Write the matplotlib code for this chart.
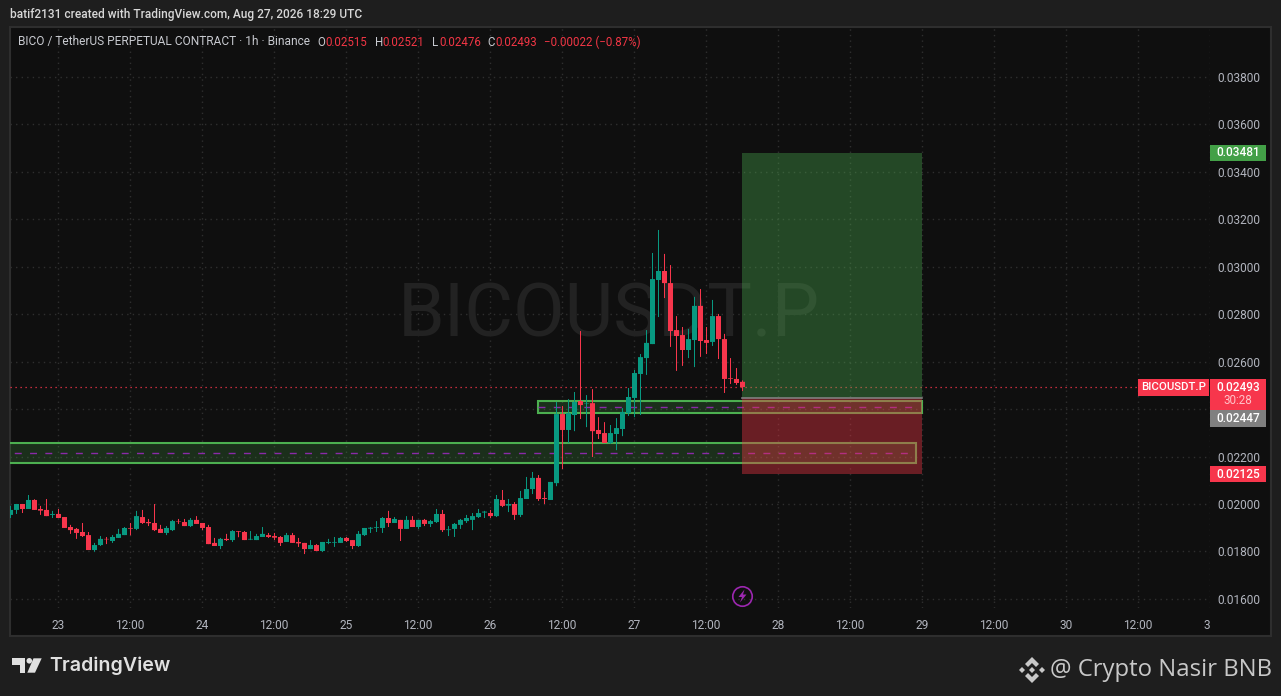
#!/usr/bin/env python
# coding=utf-8

import numpy as np
import matplotlib
matplotlib.use("Agg")
import matplotlib.pyplot as plt
from matplotlib.patches import Rectangle, Polygon, Circle

# hourly candles, prices in 1e-5 USDT
opens = [1954, 1975, 2000, 1979, 2017, 1979, 1975, 1954, 1958, 1945,
         1903, 1895, 1882, 1869, 1806, 1827, 1853, 1844, 1857, 1869,
         1899, 1895, 1945, 1924, 1920, 1895, 1878, 1890, 1928, 1924,
         1907, 1933, 1920, 1903, 1836, 1823, 1853, 1848, 1886, 1882,
         1850, 1848, 1861, 1869, 1865, 1861, 1840, 1869, 1840, 1836,
         1810, 1827, 1802, 1836, 1837, 1836, 1857, 1848, 1823, 1869,
         1896, 1900, 1899, 1941, 1920, 1933, 1895, 1933, 1903, 1933,
         1916, 1924, 1958, 1890, 1895, 1912, 1928, 1933, 1945, 1964,
         1962, 1949, 2017, 1993, 2000, 1954, 2021, 2063, 2110, 2025,
         2017, 2088, 2379, 2312, 2375, 2434, 2423, 2425, 2312, 2299,
         2257, 2295, 2316, 2383, 2447, 2548, 2615, 2674, 2944, 2982,
         2931, 2733, 2712, 2649, 2691, 2835, 2691, 2683, 2792, 2695,
         2531, 2527, 2515]
highs = [1992, 2000, 2000, 2038, 2020, 1992, 2021, 1971, 1979, 1945,
         1912, 1899, 1920, 1882, 1836, 1865, 1861, 1869, 1895, 1903,
         1920, 1971, 1975, 1937, 2000, 1912, 1907, 1933, 1937, 1937,
         1941, 1949, 1920, 1912, 1857, 1857, 1874, 1890, 1886, 1886,
         1886, 1874, 1903, 1878, 1878, 1865, 1878, 1878, 1857, 1836,
         1848, 1831, 1840, 1853, 1861, 1861, 1861, 1848, 1886, 1899,
         1903, 1928, 1945, 1971, 1945, 1933, 1949, 1949, 1933, 1937,
         1933, 1979, 1975, 1907, 1920, 1937, 1954, 1962, 1979, 1971,
         1975, 2038, 2059, 2021, 2008, 2055, 2114, 2135, 2122, 2051,
         2093, 2430, 2413, 2442, 2472, 2729, 2459, 2484, 2366, 2345,
         2333, 2362, 2404, 2489, 2565, 2632, 2733, 3058, 3155, 3054,
         3007, 2792, 2746, 2738, 2873, 2906, 2746, 2860, 2801, 2717,
         2615, 2573, 2521]
lows = [1941, 1958, 1962, 1979, 1975, 1954, 1949, 1941, 1941, 1899,
        1874, 1853, 1861, 1806, 1799, 1823, 1831, 1836, 1857, 1869,
        1868, 1890, 1916, 1907, 1886, 1878, 1869, 1886, 1916, 1907,
        1903, 1916, 1890, 1831, 1823, 1810, 1844, 1840, 1860, 1848,
        1848, 1848, 1861, 1857, 1848, 1823, 1840, 1836, 1819, 1789,
        1810, 1802, 1798, 1831, 1819, 1836, 1840, 1810, 1819, 1865,
        1878, 1882, 1878, 1903, 1920, 1844, 1895, 1903, 1895, 1907,
        1903, 1920, 1882, 1865, 1861, 1895, 1920, 1890, 1941, 1941,
        1941, 1945, 1987, 1966, 1933, 1945, 2021, 2042, 2013, 2000,
        2017, 2075, 2147, 2257, 2307, 2358, 2324, 2198, 2274, 2257,
        2253, 2227, 2286, 2371, 2366, 2375, 2544, 2674, 2788, 2868,
        2662, 2561, 2582, 2615, 2577, 2620, 2632, 2666, 2611, 2468,
        2506, 2502, 2476]
closes = [1975, 2000, 1979, 2017, 1975, 1972, 1949, 1958, 1941, 1899,
          1890, 1878, 1865, 1806, 1827, 1853, 1851, 1861, 1874, 1899,
          1896, 1949, 1920, 1919, 1890, 1878, 1899, 1928, 1926, 1907,
          1933, 1916, 1899, 1831, 1823, 1853, 1848, 1886, 1883, 1848,
          1853, 1865, 1874, 1861, 1858, 1836, 1869, 1836, 1834, 1810,
          1827, 1802, 1840, 1840, 1840, 1857, 1844, 1823, 1874, 1899,
          1900, 1903, 1941, 1920, 1937, 1895, 1933, 1903, 1933, 1916,
          1928, 1958, 1890, 1893, 1916, 1933, 1941, 1949, 1962, 1968,
          1949, 2021, 1992, 2000, 1954, 2025, 2063, 2110, 2021, 2021,
          2093, 2379, 2312, 2383, 2430, 2417, 2425, 2307, 2295, 2257,
          2299, 2320, 2388, 2451, 2552, 2619, 2679, 2948, 2982, 2931,
          2729, 2708, 2649, 2695, 2835, 2687, 2679, 2792, 2695, 2527,
          2528, 2510, 2493]

x_ticks = [8, 20, 32, 44, 56, 68, 80, 92, 104, 116, 128, 140, 152, 164, 176, 188, 200]
x_labels = ["23", "12:00", "24", "12:00", "25", "12:00", "26", "12:00", "27",
            "12:00", "28", "12:00", "29", "12:00", "30", "12:00", "3"]
y_ticks = [0.016, 0.018, 0.020, 0.022, 0.024, 0.026, 0.028, 0.030, 0.032,
           0.034, 0.036, 0.038]
# 0.024 sits behind the price tags, so it shows no label
y_labels = ["0.01600", "0.01800", "0.02000", "0.02200", "", "0.02600", "0.02800", "0.03000",
            "0.03200", "0.03400", "0.03600", "0.03800"]

entry, target, stop = 0.02447, 0.03481, 0.02125
last_price = 0.02493
position_x = (122, 152)
zones = [(88, 152, 0.02384, 0.02434), (-2, 151, 0.02173, 0.02257)]

UP, DOWN = "#089981", "#f7364c"
OUTER, PANE = "#1e1e1e", "#0f0f0f"
GRID = "#2f2f2f"
TXT = "#b2b5be"
FONT = "Roboto"

W, H = 1281, 696
# pane limits in pixels
L, R, T, B = 10, 1210, 28, 608
PX_PER_PRICE = 23727.0


def y_px(p):
    return 504 - (p - 0.02) * PX_PER_PRICE


fig = plt.figure(figsize=(W / 100, H / 100), dpi=100, facecolor=OUTER)
plt.rcParams["font.family"] = [FONT, "DejaVu Sans"]

# frame around pane and axis strip
back = fig.add_axes([0, 0, 1, 1], zorder=0)
back.set_xlim(0, W)
back.set_ylim(H, 0)
back.axis("off")
back.add_patch(Rectangle((9.5, 27), 1261, 609, fc=PANE, ec="#2e2e2e", lw=1.5))

ax = fig.add_axes([L / W, 1 - B / H, (R - L) / W, (B - T) / H], zorder=1)
ax.patch.set_alpha(0)
ax.set_xlim(0, 200)
ax.set_ylim(0.02 - (B - 504) / PX_PER_PRICE, 0.02 + (504 - T) / PX_PER_PRICE)
for s in ax.spines.values():
    s.set_visible(False)

ax.yaxis.tick_right()
ax.set_yticks(y_ticks)
ax.set_yticklabels(y_labels)
ax.set_xticks(x_ticks)
ax.set_xticklabels(x_labels)
ax.tick_params(axis="both", length=0, labelcolor=TXT, labelsize=8.6)
ax.tick_params(axis="y", pad=5)
ax.tick_params(axis="x", pad=8)
ax.get_xticklabels()[-1].set_ha("right")
ax.grid(True, color=GRID, linestyle=(0, (1, 3)), linewidth=1)
ax.set_axisbelow(True)

# watermark
ax.text(99.8, 0.02 + (504 - 316) / PX_PER_PRICE, "BICOUSDT.P", color="#222222", fontsize=54,
        ha="center", va="center", zorder=1, family="Roboto")

# last price line
ax.axhline(last_price, color=DOWN, linestyle=(0, (1, 3)), linewidth=0.9, zorder=2)

# green zones
for x0, x1, lo, hi in zones:
    ax.add_patch(Rectangle((x0, lo), x1 - x0, hi - lo, fc=(0.30, 0.69, 0.31, 0.2),
                           ec="#4caf50", lw=1.5, zorder=2))
    ax.plot([x0, x1 - 0.5], [(lo + hi) / 2] * 2, color="#8a2aa8", lw=1,
            linestyle=(0, (5, 6)), zorder=2)

# long position box
ax.add_patch(Rectangle((position_x[0], entry), position_x[1] - position_x[0], target - entry,
                       fc="#4caf50", alpha=0.36, lw=0, zorder=3))
ax.add_patch(Rectangle((position_x[0], stop), position_x[1] - position_x[0], entry - stop,
                       fc="#f23645", alpha=0.40, lw=0, zorder=3))
ax.plot(position_x, [entry, entry], color="#808080", lw=1.2, zorder=3)

# candles, half a pixel off the tick so bodies sit on whole pixels
o = np.array(opens) / 1e5
h = np.array(highs) / 1e5
l = np.array(lows) / 1e5
c = np.array(closes) / 1e5
idx = np.arange(len(o)) + 0.5 / 6
colors = [UP if a >= b else DOWN for a, b in zip(c, o)]
wicks = ax.bar(idx, h - l, bottom=l, width=1 / 6, color=colors, linewidth=0, zorder=4)
bodies = ax.bar(idx, np.maximum(np.abs(c - o), 0.00002), bottom=np.minimum(o, c), width=5 / 6,
                color=colors, linewidth=0, zorder=4)
for p in list(wicks) + list(bodies):
    p.set_snap(False)

# alert icon on the time line
ax.plot([122], [0.02 + (504 - 596) / PX_PER_PRICE], "o", ms=14, mfc="none", mec="#9c27b0",
        mew=1.2, zorder=5)

# overlay in pixels: tags, legend, logos
ov = fig.add_axes([0, 0, 1, 1], zorder=2)
ov.set_xlim(0, W)
ov.set_ylim(H, 0)
ov.axis("off")
ov.patch.set_alpha(0)

ov.add_patch(Polygon([(744.5, 589.5), (738.5, 597), (742, 597), (740, 602.5), (746.5, 594.5),
                      (743, 594.5)], fc="#9c27b0", lw=0))


def tag(x0, x1, y0, y1, color, label, y_text=None, size=8.6):
    ov.add_patch(Rectangle((x0, y0), x1 - x0, y1 - y0, fc=color, lw=0))
    ov.text((x0 + x1) / 2, (y0 + y1) / 2 if y_text is None else y_text, label, color="white",
            fontsize=size, ha="center", va="center", weight="medium")


tag(1210, 1266, y_px(target) - 8, y_px(target) + 8, "#43a047", "%.5f" % target)
tag(1138, 1209, 379, 396, DOWN, "BICOUSDT.P", size=8.2)
tag(1210, 1266, 379, 410, DOWN, "%.5f" % last_price, y_text=387.5)
ov.text(1238, 400.5, "30:28", color="#ffc2c8", fontsize=8.4, ha="center", va="center")
tag(1210, 1266, 410, 427, "#808080", "%.5f" % entry, y_text=419)
tag(1210, 1266, y_px(stop) - 8, y_px(stop) + 8, "#f7364c", "%.5f" % stop)

ov.text(10, 14.5, "batif2131 created with TradingView.com, Aug 27, 2026 18:29 UTC",
        color="#d8d8d8", fontsize=8.6, va="center", weight="medium")
ov.text(18, 42, "BICO / TetherUS PERPETUAL CONTRACT \u00b7 1h \u00b7 Binance", color="#c8cad0",
        fontsize=8.6, va="center")
legend_bits = [(317, "O", "#c8cad0"), (325, "0.02515", "#f23645"), (375, "H", "#c8cad0"),
               (382, "0.02521", "#f23645"), (432, "L", "#c8cad0"), (439, "0.02476", "#f23645"),
               (487, "C", "#c8cad0"), (495, "0.02493", "#f23645"),
               (544, "\u22120.00022 (\u22120.87%)", "#f23645")]
for x, s, col in legend_bits:
    ov.text(x, 42, s, color=col, fontsize=8.3, va="center")

# TradingView logo
logo = "#e0e0e0"
ov.add_patch(Polygon([(12.3, 658.3), (25, 658.3), (25, 672.7), (20, 672.7), (20, 665), (12.3, 665)],
                     fc=logo, lw=0))
ov.add_patch(Circle((29.3, 660.8), 2.8, fc=logo, lw=0))
ov.add_patch(Polygon([(33.5, 658.3), (41.7, 658.3), (35, 672.7), (27.3, 672.7)], fc=logo, lw=0))
ov.text(49, 666, "TradingView", color=logo, fontsize=14.1, weight="semibold", va="center",
        family="Inter")

# BNB logo
cx, cy = 1032, 670
bnb = "#c8c8c8"
ov.add_patch(Polygon([(cx - 7, cy - 6), (cx, cy - 13), (cx + 7, cy - 6), (cx + 4, cy - 3),
                      (cx, cy - 7), (cx - 4, cy - 3)], fc=bnb, lw=0))
ov.add_patch(Polygon([(cx - 7, cy + 6), (cx, cy + 13), (cx + 7, cy + 6), (cx + 4, cy + 3),
                      (cx, cy + 7), (cx - 4, cy + 3)], fc=bnb, lw=0))
ov.add_patch(Polygon([(cx - 13, cy), (cx - 10, cy - 3), (cx - 7, cy), (cx - 10, cy + 3)], fc=bnb, lw=0))
ov.add_patch(Polygon([(cx + 13, cy), (cx + 10, cy - 3), (cx + 7, cy), (cx + 10, cy + 3)], fc=bnb, lw=0))
ov.add_patch(Polygon([(cx - 3, cy), (cx, cy - 3), (cx + 3, cy), (cx, cy + 3)], fc=bnb, lw=0))
ov.text(1272, 670, "@ Crypto Nasir BNB", color="#c8c8c8", fontsize=17.2, ha="right", va="center",
        family="Open Sans")

fig.savefig("out.png", dpi=100, facecolor=OUTER)
